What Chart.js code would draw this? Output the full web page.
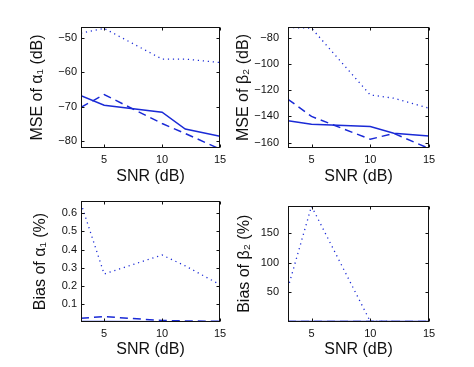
<!DOCTYPE html>
<html><head><meta charset="utf-8">
<script src="https://cdn.jsdelivr.net/npm/chart.js@4"></script>
<style>
html,body{margin:0;padding:0;background:#fff;}
#wrap{position:relative;width:474px;height:367px;overflow:hidden;background:#fff;}
.c{position:absolute;}
</style></head>
<body><div id="wrap">
<div class="c" style="left:0;top:0;width:237px;height:190px"><canvas id="c1"></canvas></div>
<div class="c" style="left:220px;top:0;width:254px;height:190px"><canvas id="c2"></canvas></div>
<div class="c" style="left:0;top:190px;width:237px;height:177px"><canvas id="c3"></canvas></div>
<div class="c" style="left:220px;top:190px;width:254px;height:177px"><canvas id="c4"></canvas></div>
</div>
<script>
// ---- data ----
const snr = [3, 5, 10, 12, 15];
const xTicks = [5, 10, 15];

const mseAlphaSolid  = [-66.8, -69.6, -71.6, -76.5, -78.6];
const mseAlphaDashed = [-70.2, -66.5, -74.9, -77.8, -82.3];
const mseAlphaDotted = [-48.7, -47.3, -56.2, -56.2, -57.2];
const mseAlphaTicks  = [-80, -70, -60, -50];

const mseBetaSolid  = [-143.2, -146.0, -147.8, -152.9, -155.0];
const mseBetaDashed = [-126.8, -140.0, -157.5, -153.0, -164.6];
const mseBetaDotted = [-71.8, -72.3, -123.5, -126.0, -133.7];
const mseBetaTicks  = [-160, -140, -120, -100, -80];

const biasAlphaSolid  = [0.003, 0.003, 0.002, 0.002, 0.002];
const biasAlphaDashed = [0.02, 0.03, 0.008, 0.006, 0.004];
const biasAlphaDotted = [0.655, 0.265, 0.37, 0.31, 0.206];
const biasAlphaTicks  = [0.1, 0.2, 0.3, 0.4, 0.5, 0.6];

const biasBetaSolid  = [0.8, 0.8, 0.8, 0.8, 0.8];
const biasBetaDashed = [0.8, 0.8, 0.8, 0.8, 0.8];
const biasBetaDotted = [58, 196, 1, 0.8, 0.6];
const biasBetaTicks  = [50, 100, 150];

// ---- styling ----
const FONT = "'Liberation Sans', Arial, Helvetica, sans-serif";
const BLUE = '#1a2ad6';
const INK = '#111';

const boxPlugin = {
  id: 'box',
  afterDraw(chart) {
    const {ctx, chartArea: a, scales} = chart;
    ctx.save();
    ctx.strokeStyle = INK;
    ctx.lineWidth = 1;
    const L = Math.round(a.left) + 0.5, R = Math.round(a.right) - 0.5;
    const T = Math.round(a.top) + 0.5, B = Math.round(a.bottom) - 0.5;
    ctx.strokeRect(L, T, R - L, B - T);
    const len = 3;
    ctx.beginPath();
    scales.x.ticks.forEach(t => {
      const px = Math.round(scales.x.getPixelForValue(t.value)) + 0.5;
      ctx.moveTo(px, B); ctx.lineTo(px, B - len);
      ctx.moveTo(px, T); ctx.lineTo(px, T + len);
    });
    scales.y.ticks.forEach(t => {
      const py = Math.round(scales.y.getPixelForValue(t.value)) + 0.5;
      ctx.moveTo(L, py); ctx.lineTo(L + len, py);
      ctx.moveTo(R, py); ctx.lineTo(R - len, py);
    });
    ctx.stroke();
    ctx.restore();
  }
};

function fmt(v) {
  if (v < 0) return '\u2212' + Math.abs(v);
  return String(v);
}

function makeChart(id, cfg) {
  const ds = [
    {data: cfg.dotted, borderDash: [1.2, 3.8], borderWidth: 1.3},
    {data: cfg.dashed, borderDash: [8, 5], borderWidth: 1.5},
    {data: cfg.solid, borderWidth: 1.5}
  ].map(d => Object.assign({borderColor: BLUE, backgroundColor: BLUE, pointRadius: 0, fill: false, tension: 0}, d));
  new Chart(document.getElementById(id), {
    type: 'line',
    data: {labels: snr, datasets: ds.map(d => Object.assign(d, {data: d.data.map((y, i) => ({x: snr[i], y}))}))},
    plugins: [boxPlugin],
    options: {
      responsive: true, maintainAspectRatio: false, animation: false,
      events: [],
      layout: {padding: cfg.pad},
      plugins: {legend: {display: false}, tooltip: {enabled: false}},
      scales: {
        x: {
          type: 'linear', min: 3, max: 15,
          grid: {display: false, drawTicks: false}, border: {display: false},
          afterBuildTicks: s => { s.ticks = xTicks.map(v => ({value: v})); },
          afterFit: s => { s.height = cfg.xh; },
          ticks: {autoSkip: false, maxRotation: 0, padding: 5, color: INK, font: {family: FONT, size: 11}},
          title: {display: true, text: 'SNR (dB)', color: INK, font: {family: FONT, size: 16}, padding: {top: 0, bottom: cfg.xtp}}
        },
        y: {
          type: 'linear', min: cfg.ymin, max: cfg.ymax,
          grid: {display: false, drawTicks: false}, border: {display: false},
          afterBuildTicks: s => { s.ticks = cfg.yticks.map(v => ({value: v})); },
          afterFit: s => { s.width = cfg.yw; },
          ticks: {autoSkip: false, padding: cfg.ytpad, color: INK, font: {family: FONT, size: 11}, callback: v => fmt(v)},
          title: {display: true, text: cfg.ytitle, color: INK, font: {family: FONT, size: 16}, padding: {top: cfg.yttp, bottom: 0}}
        }
      }
    }
  });
}

makeChart('c1', {solid: mseAlphaSolid, dashed: mseAlphaDashed, dotted: mseAlphaDotted,
  yticks: mseAlphaTicks, ymin: -82, ymax: -46.9, ytitle: 'MSE of \u03b1\u2081 (dB)',
  pad: {left: 0, top: 27, right: 17, bottom: 0}, yw: 81, xh: 42, xtp: 3.6, yttp: 28.4, ytpad: 4});
makeChart('c2', {solid: mseBetaSolid, dashed: mseBetaDashed, dotted: mseBetaDotted,
  yticks: mseBetaTicks, ymin: -164.2, ymax: -71.4, ytitle: 'MSE of \u03b2\u2082 (dB)',
  pad: {left: 0, top: 27, right: 45, bottom: 0}, yw: 68, xh: 42, xtp: 3.6, yttp: 14.4, ytpad: 9});
makeChart('c3', {solid: biasAlphaSolid, dashed: biasAlphaDashed, dotted: biasAlphaDotted,
  yticks: biasAlphaTicks, ymin: 0, ymax: 0.668, ytitle: 'Bias of \u03b1\u2081 (%)',
  pad: {left: 0, top: 11, right: 17, bottom: 0}, yw: 81, xh: 45, xtp: 7.6, yttp: 31.4, ytpad: 4});
makeChart('c4', {solid: biasBetaSolid, dashed: biasBetaDashed, dotted: biasBetaDotted,
  yticks: biasBetaTicks, ymin: 0, ymax: 197, ytitle: 'Bias of \u03b2\u2082 (%)',
  pad: {left: 0, top: 11, right: 45, bottom: 0}, yw: 68, xh: 45, xtp: 7.6, yttp: 15.4, ytpad: 9});
</script>
</body></html>
